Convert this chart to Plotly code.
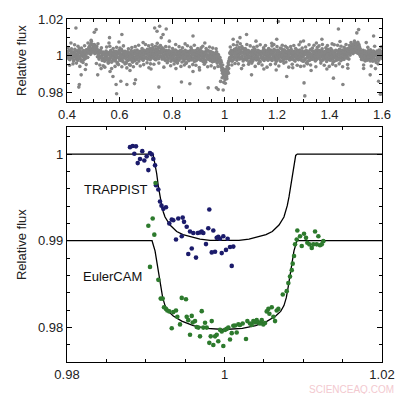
import plotly.graph_objects as go

# ---------------- top panel: full phase-folded light curve (gray) ----------------
# phase in units of 1e-3, flux deviation from 1 in units of 1e-4
top_phase = [
    400,402,404,405,407,409,411,413,416,418,
    420,421,423,425,427,430,432,434,436,438,
    440,441,444,446,447,449,452,454,456,458,
    460,462,463,465,468,470,471,474,476,478,
    480,482,483,485,487,490,492,494,496,498,
    500,501,504,506,507,509,512,514,516,518,
    520,522,523,525,528,530,531,534,536,538,
    540,541,543,546,547,549,551,554,556,558,
    560,562,564,565,567,570,572,574,575,578,
    580,581,584,586,587,589,592,593,596,598,
    600,602,603,605,608,610,611,614,616,618,
    620,621,624,626,627,629,632,634,636,638,
    640,642,644,645,647,650,652,653,656,658,
    660,661,663,666,667,669,671,674,676,678,
    680,682,684,685,688,690,691,694,695,698,
    700,701,704,706,707,709,712,714,716,718,
    720,722,723,725,727,730,732,734,736,738,
    740,741,744,746,747,749,751,754,756,758,
    760,762,764,765,768,770,771,774,776,778,
    780,781,783,786,787,789,792,794,796,798,
    800,802,804,805,807,810,812,813,816,818,
    820,821,824,826,827,829,831,834,836,838,
    840,842,843,845,848,850,852,854,855,858,
    860,861,864,866,867,869,872,874,876,878,
    880,882,884,885,887,890,891,894,896,898,
    900,901,903,906,907,909,912,914,916,918,
    920,922,924,925,928,930,931,934,936,938,
    940,941,944,946,947,949,951,954,956,958,
    960,962,963,965,968,970,972,974,975,978,
    980,982,984,986,988,990,992,994,996,998,
    1000,1002,1004,1006,1008,1010,1012,1014,1016,1018,
    1020,1021,1024,1026,1027,1029,1032,1034,1036,1038,
    1040,1042,1044,1045,1047,1050,1052,1053,1056,1058,
    1060,1061,1063,1066,1067,1069,1071,1074,1076,1078,
    1080,1082,1084,1085,1088,1090,1091,1094,1095,1098,
    1100,1101,1104,1106,1107,1109,1112,1114,1116,1118,
    1120,1122,1123,1125,1127,1130,1132,1134,1136,1138,
    1140,1141,1144,1146,1147,1149,1151,1154,1156,1158,
    1160,1162,1164,1165,1168,1170,1171,1174,1176,1178,
    1180,1181,1183,1186,1187,1189,1192,1194,1196,1198,
    1200,1202,1204,1205,1207,1210,1212,1213,1216,1218,
    1220,1221,1224,1226,1227,1229,1231,1234,1236,1238,
    1240,1242,1243,1245,1248,1250,1252,1254,1255,1258,
    1260,1261,1264,1266,1267,1269,1272,1274,1276,1278,
    1280,1282,1284,1285,1287,1290,1291,1294,1296,1298,
    1300,1301,1303,1306,1307,1309,1312,1314,1316,1318,
    1320,1322,1324,1325,1328,1330,1331,1334,1336,1338,
    1340,1341,1344,1346,1347,1349,1351,1354,1356,1358,
    1360,1362,1363,1365,1368,1370,1372,1374,1375,1378,
    1380,1381,1384,1386,1387,1389,1392,1394,1396,1398,
    1400,1402,1404,1405,1407,1410,1412,1413,1416,1418,
    1420,1421,1424,1426,1427,1429,1431,1434,1436,1438,
    1440,1442,1443,1445,1448,1450,1452,1454,1455,1458,
    1460,1461,1464,1466,1467,1469,1472,1474,1476,1478,
    1480,1482,1484,1485,1487,1490,1491,1494,1496,1498,
    1500,1501,1503,1506,1507,1509,1512,1514,1516,1518,
    1520,1522,1524,1525,1528,1530,1531,1534,1536,1538,
    1540,1541,1544,1546,1547,1549,1551,1554,1556,1558,
    1560,1562,1563,1565,1568,1570,1572,1574,1575,1578,
    1580,1581,1584,1586,1587,1589,1592,1594,1596,1598,
]
top_flux = [
    12,-8,25,3,-15,30,-22,6,-4,18,
    -10,22,0,-28,14,35,-6,9,-18,27,
    5,-25,16,-3,40,-12,20,-30,8,-1,
    18,-6,29,-20,11,2,-14,33,24,-9,
    30,15,42,22,55,8,38,26,60,19,
    45,28,62,12,35,50,20,40,-5,25,
    10,-18,24,-7,31,-2,15,-26,6,20,
    -12,8,-30,17,-4,26,-20,3,13,-38,
    6,-22,19,-9,28,-35,1,14,-16,23,
    -5,12,-28,21,-14,4,-42,17,-8,30,
    16,-2,-25,9,34,-17,5,-33,22,-11,
    2,25,-15,-40,11,-6,20,-24,7,-48,
    14,-20,3,28,-12,-35,8,-4,19,-27,
    -9,24,6,-18,32,-3,13,-29,21,0,
    10,-15,27,-6,18,-22,4,30,-11,15,
    25,-8,12,35,-19,6,22,-2,40,-14,
    8,28,-12,18,45,-5,30,12,-20,36,
    20,-10,32,5,48,-16,24,14,-3,38,
    15,-18,26,2,34,-9,19,-25,11,28,
    -6,17,-22,9,29,-13,3,22,-30,12,
    7,-19,24,-4,15,-28,10,31,-12,2,
    -16,21,6,-25,13,-7,27,-3,18,-34,
    11,-9,23,-20,4,30,-14,8,-38,16,
    -2,19,-27,12,-11,26,-5,35,-18,7,
    22,-13,5,-31,17,-3,28,-21,9,14,
    -8,25,-17,3,32,-24,11,-6,20,-29,
    13,-4,-22,18,-35,7,24,-12,2,-19,
    26,-9,15,-27,5,-15,20,-33,10,-2,
    -18,12,-30,4,-10,22,-40,8,-25,-5,
    -20,-12,-45,-60,-35,-80,-95,-70,-110,-88,
    -100,-130,-75,-90,-115,-60,-85,-40,-70,-25,
    -10,18,-20,30,5,-30,25,-8,14,35,
    22,-12,40,8,-25,28,-5,15,45,-18,
    10,32,-15,20,-3,38,-28,12,25,-9,
    18,-20,6,30,-13,24,2,-35,16,-6,
    -14,20,-4,27,-30,9,-19,15,35,-10,
    5,-23,18,-8,30,-16,11,24,-32,7,
    -3,21,-18,13,-9,34,-26,4,18,-12,
    16,-7,28,-21,6,-13,24,-1,32,-17,
    9,-26,14,20,-5,36,-15,2,27,-30,
    12,-4,30,-18,22,-9,5,-28,17,38,
    -11,24,-20,8,33,-6,15,-34,10,-2,
    20,-14,5,28,-23,12,-8,35,-16,3,
    -19,10,25,-5,16,-29,7,22,-12,30,
    4,-22,18,-10,31,-3,13,-26,26,-8,
    15,-30,6,24,-16,9,-40,20,-4,12,
    -7,19,-25,11,34,-13,2,27,-19,8,
    23,-9,14,-28,5,32,-15,18,-3,25,
    -12,29,3,-20,16,-6,38,-24,10,21,
    6,-17,25,-4,12,-31,19,35,-10,1,
    -21,14,-8,28,-14,4,22,-33,9,-2,
    17,-11,30,-24,7,-5,26,-16,13,36,
    -6,20,-27,10,32,-13,3,24,-20,15,
    8,30,-12,22,-3,40,14,-18,28,5,
    35,18,50,25,60,12,42,30,70,22,
    48,20,38,55,15,32,62,10,28,-4,
    14,-20,25,-6,30,-15,8,22,-28,4,
    -9,18,-24,11,-3,28,-17,6,33,-12,
    20,-7,14,-30,25,-2,10,-22,17,-36,
    3,26,-15,9,-25,31,-8,16,-4,22,
]
# a second interleaved set of observations (same units)
top_phase_b = [
    401,403,406,408,412,415,417,419, 421,424,426,429,431,434,437,439,
    442,443,446,448,450,453,456,458, 461,463,466,468,472,475,477,479,
    481,484,486,489,491,494,497,499, 502,503,506,508,510,513,516,518,
    521,523,526,528,532,535,537,539, 541,544,546,549,551,554,557,559,
    562,563,566,568,570,573,576,578, 581,583,586,588,592,595,597,599,
    601,604,606,609,611,614,617,619, 622,623,626,628,630,633,636,638,
    641,643,646,648,652,655,657,659, 661,664,666,669,671,674,677,679,
    682,683,686,688,690,693,696,698, 701,703,706,708,712,715,717,719,
    721,724,726,729,731,734,737,739, 742,743,746,748,750,753,756,758,
    761,763,766,768,772,775,777,779, 781,784,786,789,791,794,797,799,
    802,803,806,808,810,813,816,818, 821,823,826,828,832,835,837,839,
    841,844,846,849,851,854,857,859, 862,863,866,868,870,873,876,878,
    881,883,886,888,892,895,897,899, 901,904,906,909,911,914,917,919,
    922,923,926,928,930,933,936,938, 941,943,946,948,952,955,957,959,
    961,964,966,969,971,974,977,979, 982,983,986,988,990,993,996,998,
    1001,1003,1006,1008,1012,1015,1017,1019, 1021,1024,1026,1029,1031,1034,1037,1039,
    1042,1043,1046,1048,1050,1053,1056,1058, 1061,1063,1066,1068,1072,1075,1077,1079,
    1081,1084,1086,1089,1091,1094,1097,1099, 1102,1103,1106,1108,1110,1113,1116,1118,
    1121,1123,1126,1128,1132,1135,1137,1139, 1141,1144,1146,1149,1151,1154,1157,1159,
    1162,1163,1166,1168,1170,1173,1176,1178, 1181,1183,1186,1188,1192,1195,1197,1199,
    1201,1204,1206,1209,1211,1214,1217,1219, 1222,1223,1226,1228,1230,1233,1236,1238,
    1241,1243,1246,1248,1252,1255,1257,1259, 1261,1264,1266,1269,1271,1274,1277,1279,
    1282,1283,1286,1288,1290,1293,1296,1298, 1301,1303,1306,1308,1312,1315,1317,1319,
    1321,1324,1326,1329,1331,1334,1337,1339, 1342,1343,1346,1348,1350,1353,1356,1358,
    1361,1363,1366,1368,1372,1375,1377,1379, 1381,1384,1386,1389,1391,1394,1397,1399,
    1402,1403,1406,1408,1410,1413,1416,1418, 1421,1423,1426,1428,1432,1435,1437,1439,
    1441,1444,1446,1449,1451,1454,1457,1459, 1462,1463,1466,1468,1470,1473,1476,1478,
    1481,1483,1486,1488,1492,1495,1497,1499, 1501,1504,1506,1509,1511,1514,1517,1519,
    1522,1523,1526,1528,1530,1533,1536,1538, 1541,1543,1546,1548,1552,1555,1557,1559,
    1561,1564,1566,1569,1571,1574,1577,1579, 1582,1583,1586,1588,1590,1593,1596,1598,
]
top_flux_b = [
    20,-5,10,-18,28,2,-12,15, -3,16,-22,8,24,-9,3,-14,
    12,-7,30,-1,-16,22,6,-26, 9,25,-11,17,-4,32,14,-8,
    26,48,18,36,65,30,22,50, 38,58,24,44,16,52,30,12,
    4,-12,20,28,-9,13,-20,9, 15,-25,3,21,-11,7,-33,18,
    -14,10,26,-6,16,-27,4,12, 8,-18,24,-3,-36,13,-10,20,
    -20,6,-8,26,-28,14,-3,10, 18,-11,5,-30,22,-2,-17,9,
    -6,21,-24,7,16,-15,27,-9, 13,-22,2,19,-8,25,-16,6,
    -12,20,-2,24,-25,8,15,-5, 18,-15,30,4,-9,26,-21,13,
    22,-4,38,10,-14,28,6,-22, 30,-6,16,42,-12,20,-2,26,
    -4,22,-14,30,8,-20,16,4, 14,-26,6,20,-9,25,-15,2,
    -11,18,-2,26,-20,9,-31,13, 24,-8,15,-18,2,30,-13,8,
    -5,14,-28,20,-10,6,25,-19, 10,-14,24,-4,17,-23,3,28,
    -17,8,26,-9,-27,15,4,-11, 18,-3,-20,12,26,-14,6,-32,
    -9,20,7,-28,14,-3,28,-16, 4,-20,23,-6,12,-28,17,-12,
    10,-25,-3,18,-16,-34,6,-20, -8,-30,-25,-55,-70,-50,-100,-85,
    -120,-95,-80,-105,-65,-50,-30,-15, 12,-15,26,-4,20,-22,8,28,
    -6,30,14,-18,36,2,22,-10, 25,-8,16,42,-20,8,30,-14,
    -9,22,-24,12,28,-4,18,-28, 10,-22,30,4,-12,24,-6,16,
    -18,14,-2,26,-26,9,19,-11, 12,-8,26,-20,4,30,-14,8,
    -10,20,-24,12,-4,26,-18,15, 22,-14,4,30,-22,10,-6,24,
    -16,8,26,-4,14,-30,20,2, 6,-26,18,-10,28,4,-16,22,
    -8,30,-3,16,-19,24,-12,9, 14,-6,-24,20,2,-14,28,-9,
    -20,12,-5,24,-15,8,20,-28, 2,18,-22,10,28,-12,-30,14,
    24,-4,12,-20,6,-9,22,-16, -12,14,-2,26,-22,9,30,-6,
    18,-16,8,-28,24,2,-10,16, -14,22,-6,30,-20,10,-2,26,
    8,-24,16,-8,30,-16,12,-30, -2,26,-14,10,-22,20,4,-12,
    28,-8,14,-20,6,22,-4,34, 18,-6,34,12,-14,26,40,4,
    45,24,58,32,20,50,28,66, 30,56,16,42,24,8,38,18,
    -10,20,4,-22,16,-4,26,-16, 12,-14,24,-6,20,-28,8,-2,
    -18,10,26,-10,4,-24,18,6, 14,-8,-20,22,-12,28,2,-14,
]
# wider-scatter points that fill the halo around the band (same units)
tail_phase = [
    404,410,417,423,429,436,442,449,455,461,
    467,473,480,486,493,499,505,512,518,525,
    531,538,544,551,557,563,570,576,583,589,
    596,602,609,615,621,628,634,641,647,653,
    660,666,673,679,686,692,699,705,711,718,
    724,731,737,744,750,756,763,769,776,782,
    789,795,802,808,814,821,827,834,840,847,
    853,859,866,872,879,885,891,898,904,911,
    917,923,930,936,943,949,955,962,968,975,
    985,991,997,1003,1009,1015,1022,1028,1034,1040,
    1047,1053,1060,1066,1072,1079,1085,1092,1098,1104,
    1111,1117,1124,1130,1136,1143,1149,1156,1162,1168,
    1175,1181,1188,1194,1200,1207,1213,1220,1226,1232,
    1239,1245,1252,1258,1264,1271,1277,1284,1290,1296,
    1303,1309,1316,1322,1328,1335,1341,1348,1354,1360,
    1367,1373,1380,1386,1392,1399,1405,1412,1418,1424,
    1431,1437,1444,1450,1456,1463,1469,1476,1482,1488,
    1495,1501,1508,1514,1530,1546,1559,1572,1585,1597,
]
tail_flux = [
    45,-52,38,-44,60,-40,52,-58,42,-36,
    55,-48,70,40,78,62,48,-42,66,-50,
    44,-55,-62,48,-40,52,-70,40,-58,46,
    -48,42,-60,54,-44,-66,38,-52,45,-60,
    50,-42,58,-56,40,-48,62,-38,55,-44,
    60,-46,52,68,-40,56,44,-62,50,-38,
    48,-54,40,-45,62,-40,50,-58,44,-50,
    -42,55,-60,46,-48,58,-52,40,-64,44,
    52,-46,40,-60,48,-55,42,-66,38,-58,
    -140,-120,-145,-150,-125,-95,48,-50,60,-42,
    58,-44,66,50,-52,40,62,-46,54,-40,
    46,-58,52,-42,60,-50,44,56,-62,40,
    -48,54,62,-44,50,-56,42,58,-40,52,
    44,-62,50,-46,56,40,-52,60,-58,42,
    -56,48,-44,60,-50,42,58,-60,46,54,
    -40,62,-52,44,56,-58,40,-46,60,-54,
    58,-44,52,-60,46,62,-48,56,72,60,
    80,66,74,50,-50,46,-56,52,-44,48,
]
# scattered outliers (same units)
out_phase = [434,447,445,454,511,504,517,562,564,575,587,589,609,605,628,657,661,
             734,743,753,759,766,778,750,836,868,880,880,938,976,969,995,1033,1059,
             1084,1103,1199,1197,1205,1237,1301,1303,1306,1371,1415,1434,1451,1511,
             1504,1530,1555,1568,1587,1594,
             415,470,492,530,598,640,690,712,790,815,850,905,925,1050,1065,1120,1150,
             1180,1260,1290,1330,1350,1390,1440,1470,1540,1575,1410,720,560]
out_flux = [152,-157,-171,-104,143,129,-104,99,-86,-113,-157,-207,116,-139,-157,-152,-131,
            152,134,161,99,116,146,-171,-143,-153,108,-86,-175,-184,-175,-187,90,99,
            116,-104,90,-78,187,-113,81,-148,-219,90,-122,146,-157,143,
            125,-69,-104,108,-139,-210,
            70,-75,85,-70,75,-80,72,-65,80,-70,65,-78,70,75,-70,80,-72,
            68,-65,75,-80,70,-72,78,-68,72,-70,65,-72,70]

# ---------------- bottom panel: transit close-up ----------------
trappist_x = [0.9880,0.98834,0.98876,0.98855,0.98898,0.98927,0.98956,0.98982,0.99012,0.99033,
              0.99054,0.99076,0.99096,0.99118,0.99130,0.99160,0.99181,0.99200,0.99223,0.99257,
              0.99299,0.99330,0.99350,0.99384,0.99413,0.99457,0.99469,0.99486,0.99520,0.99540,
              0.99562,0.99584,0.99604,0.99638,0.99660,0.99689,0.99710,0.99731,0.99765,0.99794,
              0.99807,0.99838,0.99858,0.99880,0.99901,0.99921,0.99943,0.99965,0.99985,1.00019,
              1.00040,1.00070,1.00092,1.00112]
trappist_y = [1.00080,1.00094,1.00089,1.00004,0.99896,0.99944,1.00034,0.99926,0.99974,0.99815,
              1.00011,0.99997,0.99944,0.99870,0.99640,0.99591,0.99453,0.99405,0.99368,0.99386,
              0.99200,0.99245,0.99237,0.99014,0.99256,0.99051,0.99267,0.99218,0.99162,0.98846,
              0.99106,0.98910,0.99089,0.98805,0.99089,0.99095,0.99106,0.99089,0.98961,0.99144,
              0.99360,0.98865,0.99118,0.98872,0.99033,0.99044,0.99022,0.98857,0.99051,0.98894,
              0.99022,0.98928,0.98709,0.98932]

euler_x = [0.99033,0.99088,0.99109,0.99054,0.99124,0.99160,0.99190,0.99215,0.99232,0.99257,
           0.99274,0.99299,0.99330,0.99350,0.99384,0.99401,0.99435,0.99457,0.99511,0.99520,
           0.99540,0.99562,0.99584,0.99596,0.99626,0.99647,0.99668,0.99689,0.99711,0.99731,
           0.99753,0.99774,0.99807,0.99825,0.99838,0.99858,0.99880,0.99901,0.99921,0.99943,
           0.99965,0.99985,1.00007,1.00028,1.00049,1.00070,1.00092,1.00112,1.00134,1.00155,
           1.00176,1.00197,1.00231,1.00273,1.00290,1.00324,1.00346,1.00366,1.00388,1.00409,
           1.00430,1.00451,1.00473,1.00493,1.00515,1.00536,1.00557,1.00570,1.00600,1.00621,
           1.00642,1.00663,1.00684,1.00740,1.00790,1.00811,1.00832,1.00854,1.00866,1.00883,
           1.00896,1.00917,1.00925,1.00959,1.00981,1.01010,1.01035,1.01052,1.01077,1.01108,
           1.01128,1.01150,1.01171,1.01192,1.01213,1.01235,1.01255]
euler_y = [0.99173,0.99256,0.99070,0.98698,0.99667,0.98548,0.98332,0.98332,0.98232,0.98213,
           0.98195,0.98184,0.97989,0.98176,0.98195,0.98121,0.98034,0.98340,0.98324,0.98121,
           0.98083,0.97915,0.98132,0.98056,0.98072,0.98004,0.97997,0.97896,0.98187,0.97997,
           0.98053,0.97997,0.97821,0.97896,0.98072,0.97796,0.97896,0.97915,0.97840,0.97971,
           0.97952,0.97785,0.97971,0.97982,0.97997,0.97859,0.97933,0.98019,0.98022,0.97940,
           0.98034,0.98027,0.98045,0.97866,0.98072,0.98045,0.98027,0.98072,0.98056,0.98083,
           0.98056,0.98045,0.98083,0.98034,0.98050,0.98184,0.98213,0.98157,0.98232,0.98121,
           0.98072,0.98195,0.98213,0.98380,0.98418,0.98511,0.98586,0.98660,0.98735,0.98824,
           0.98958,0.99014,0.99118,0.99051,0.98939,0.99081,0.99033,0.98977,0.98958,0.98917,
           0.98958,0.99106,0.98958,0.99051,0.98947,0.98958,0.98995]

# model curves
trappist_model_x = [0.9800,0.99076,0.99096,0.99118,0.99139,0.99160,0.99181,0.99203,0.99223,0.99245,
                    0.99308,0.99393,0.99473,0.99562,0.99689,0.99816,1.00000,1.00184,1.00311,1.00438,
                    1.00527,1.00607,1.00692,1.00755,1.00777,1.00797,1.00819,1.00840,1.00861,1.00882,
                    1.00904,1.00924,1.0200]
trappist_model_y = [1.0000,1.0000,0.99985,0.99888,0.99773,0.99628,0.99505,0.99405,0.99332,0.99274,
                    0.99181,0.99106,0.99070,0.99047,0.99019,0.99003,0.99000,0.99003,0.99019,0.99047,
                    0.99070,0.99106,0.99181,0.99274,0.99332,0.99405,0.99505,0.99628,0.99773,0.99888,
                    0.99985,1.0000,1.0000]
euler_model_x = [0.9800,0.99080,0.99118,0.99160,0.99190,0.99215,0.99245,0.99287,0.99350,0.99457,
                 0.99604,0.99774,1.00000,1.00226,1.00396,1.00543,1.00650,1.00713,1.00755,1.00785,
                 1.00810,1.00840,1.00882,1.00920,1.0200]
euler_model_y = [0.9900,0.9900,0.98883,0.98660,0.98474,0.98343,0.98251,0.98184,0.98131,0.98072,
                 0.98019,0.97989,0.97975,0.97989,0.98019,0.98072,0.98131,0.98184,0.98251,0.98343,
                 0.98474,0.98660,0.98883,0.9900,0.9900]

FONT = "Liberation Sans, Arial, sans-serif"
GRAY = "#858585"
BLUE = "#1b1b6b"
GREEN = "#2d7a2d"

all_phase = top_phase + top_phase_b + tail_phase + out_phase
all_flux = top_flux + top_flux_b + tail_flux + out_flux

fig = go.Figure()
fig.add_trace(go.Scatter(
    x=[p / 1000 for p in all_phase],
    y=[1 + f / 10000 for f in all_flux],
    mode="markers", marker=dict(size=3.6, color=GRAY),
    xaxis="x", yaxis="y", showlegend=False, hoverinfo="skip"))

fig.add_trace(go.Scatter(x=trappist_model_x, y=trappist_model_y, mode="lines",
                         line=dict(color="black", width=1.3), xaxis="x2", yaxis="y2", showlegend=False))
fig.add_trace(go.Scatter(x=euler_model_x, y=euler_model_y, mode="lines",
                         line=dict(color="black", width=1.3), xaxis="x2", yaxis="y2", showlegend=False))
fig.add_trace(go.Scatter(x=trappist_x, y=trappist_y, mode="markers",
                         marker=dict(size=4.6, color=BLUE), xaxis="x2", yaxis="y2", showlegend=False))
fig.add_trace(go.Scatter(x=euler_x, y=euler_y, mode="markers",
                         marker=dict(size=4.6, color=GREEN), xaxis="x2", yaxis="y2", showlegend=False))

axis_common = dict(showline=True, linecolor="black", linewidth=1.2, mirror="allticks",
                   ticks="inside", ticklen=5, tickcolor="black", tickwidth=1,
                   showgrid=False, zeroline=False,
                   tickfont=dict(family=FONT, size=13, color="#222"))

fig.update_layout(
    width=408, height=394,
    margin=dict(l=67, r=26, t=12, b=27),
    paper_bgcolor="white", plot_bgcolor="white",
    font=dict(family=FONT, size=13, color="#222"),
    xaxis=dict(domain=[0, 1], anchor="y", range=[0.4, 1.6], tickvals=[0.4, 0.6, 0.8, 1.0, 1.2, 1.4, 1.6],
               ticktext=["0.4", "0.6", "0.8", "1", "1.2", "1.4", "1.6"],
               minor=dict(ticks="inside", ticklen=3, dtick=0.05, tickcolor="black"), **axis_common),
    yaxis=dict(domain=[0.7577, 1], anchor="x", range=[0.9747, 1.0201], tickvals=[0.98, 1.0, 1.02],
               ticktext=["0.98", "1", "1.02"],
               minor=dict(ticks="inside", ticklen=3, dtick=0.005, tickcolor="black"),
               title=dict(text="Relative flux", font=dict(family=FONT, size=13, color="#222"), standoff=8),
               **axis_common),
    xaxis2=dict(domain=[0, 1], anchor="y2", range=[0.98, 1.02], tickvals=[0.98, 1.0, 1.02],
                ticktext=["0.98", "1", "1.02"],
                minor=dict(ticks="inside", ticklen=3, dtick=0.005, tickcolor="black"), **axis_common),
    yaxis2=dict(domain=[0, 0.6845], anchor="x2", range=[0.976, 1.0031], tickvals=[0.98, 0.99, 1.0],
                ticktext=["0.98", "0.99", "1"],
                minor=dict(ticks="inside", ticklen=3, dtick=0.002, tickcolor="black"),
                title=dict(text="Relative flux", font=dict(family=FONT, size=13, color="#222"), standoff=8),
                **axis_common),
    annotations=[
        dict(x=0.98622, y=0.99595, xref="x2", yref="y2", text="TRAPPIST", showarrow=False,
             font=dict(family=FONT, size=13, color="#111")),
        dict(x=0.98584, y=0.98589, xref="x2", yref="y2", text="EulerCAM", showarrow=False,
             font=dict(family=FONT, size=13, color="#111")),
        dict(x=1.045, y=-0.08, xref="paper", yref="paper", xanchor="right", yanchor="middle",
             text="SCIENCEAQ.COM", showarrow=False,
             font=dict(family=FONT, size=10, color="#f3c9cf")),
    ],
)

fig.write_html("out.html", config={"displayModeBar": False},
               post_script="document.body.style.margin='0px';")
